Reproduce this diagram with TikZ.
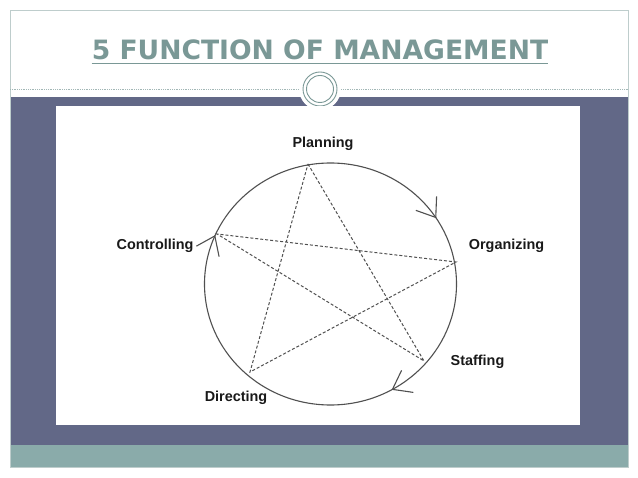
\documentclass[tikz,border=0pt]{standalone}
\usepackage{fontspec}
\setmainfont{Liberation Sans}
\newfontfamily\titlefont{DejaVu Sans}
\usetikzlibrary{arrows.meta,decorations.markings}
\definecolor{titlecol}{RGB}{122,152,150}
\definecolor{bandcol}{RGB}{98,104,135}
\definecolor{footcol}{RGB}{138,171,170}
\definecolor{framecol}{RGB}{190,205,204}
\definecolor{linecol}{RGB}{80,80,80}
\tikzset{
    label/.style={font=\bfseries\fontsize{14.4}{16}\selectfont, text=black!90, inner sep=0pt},
    starline/.style={linecol, densely dashed, line width=1pt},
    cycle/.style={linecol, line width=1.1pt},
    cyclebarb/.tip={Straight Barb[length=17pt,width=25pt]},
}
\begin{document}
\begin{tikzpicture}[x=1pt,y=-1pt]
        \useasboundingbox (0,0) rectangle (638,478);
        \fill[white] (0,0) rectangle (638,478);
        % slide frame
        \fill[bandcol] (10,97) rectangle (628,445);
        \fill[footcol] (10,445) rectangle (628,467);
        \draw[framecol, line width=0.8pt] (10,10) rectangle (628,467);
        \draw[titlecol!70, densely dotted, line width=0.8pt] (10,89) -- (628,89);
        \fill[white] (320,89) circle (21);
        \draw[titlecol, line width=0.9pt] (320,89) circle (17);
        \draw[titlecol, line width=0.9pt] (320,89) circle (13.5);
        \node[font=\titlefont\bfseries\fontsize{26.6}{30}\selectfont, text=titlecol, inner sep=0pt, anchor=base] (title) at (320,60) {5 FUNCTION OF MANAGEMENT};
        \draw[titlecol, line width=1.8pt] ([yshift=-3.5pt]title.base west) -- ([yshift=-3.5pt]title.base east);
        \fill[white] (56,106) rectangle (580,425);
        % the cycle, clockwise
        \draw[cycle, postaction={decorate}, decoration={markings,
              mark=at position 0.168 with {\arrow{cyclebarb}},
              mark=at position 0.565 with {\arrow{cyclebarb}},
              mark=at position 0.91 with {\arrow{cyclebarb}}}]
            (456.5,284) arc[start angle=0, end angle=360, x radius=126, y radius=121];
        \coordinate (p) at (308,164);
        \coordinate (o) at (456,262);
        \coordinate (s) at (424,361);
        \coordinate (d) at (250,372);
        \coordinate (c) at (217,234);
        \draw[starline] (p) -- (s) -- (c) -- (o) -- (d) -- cycle;
        \node[label] (planning) at (323,144) {Planning};
        \node[label] (organizing) at (506.5,246) {Organizing};
        \node[label] (staffing) at (477.5,362) {Staffing};
        \node[label] (directing) at (236,398) {Directing};
        \node[label] (controlling) at (155,246) {Controlling};
    \end{tikzpicture}
\end{document}
